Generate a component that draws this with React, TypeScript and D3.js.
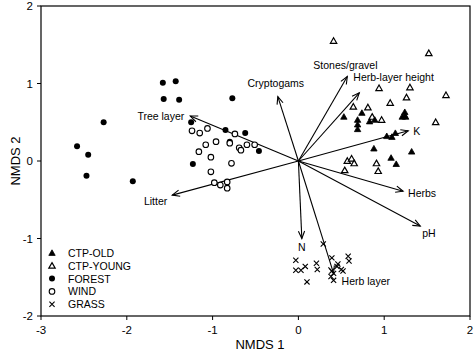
import React from "react";
import * as d3 from "d3";

const forestX = [-2.58, -2.45, -2.47, -1.93, -2.27, -1.58, -1.43, -1.57, -1.39, -0.77, -1.25, -0.85, -0.62, -0.80, -0.46, -1.23];
const forestY = [0.19, 0.08, -0.19, -0.26, 0.50, 1.01, 1.03, 0.80, 0.79, 0.81, 0.50, 0.40, 0.36, 0.25, 0.13, -0.04];

const windX = [-1.24, -1.15, -1.06, -0.74, -1.08, -0.96, -0.80, -0.69, -0.67, -0.60, -0.51, -1.16, -1.02, -0.78, -1.02, -0.98, -0.91, -0.83, -0.83];
const windY = [0.39, 0.36, 0.42, 0.35, 0.21, 0.25, 0.23, 0.17, 0.14, 0.21, 0.21, 0.12, 0.05, -0.03, -0.14, -0.28, -0.31, -0.27, -0.35];

const oldX = [0.53, 0.74, 0.69, 0.69, 0.69, 0.83, 0.89, 1.24, 1.24, 1.21, 1.25, 1.03, 1.09, 1.13, 0.88, 1.32, 1.08, 1.14];
const oldY = [0.57, 0.62, 0.53, 0.47, 0.41, 0.51, 0.53, 0.63, 0.58, 0.57, 0.57, 0.32, 0.31, 0.36, 0.16, 0.12, 0.04, -0.04];

const youngX = [0.41, 1.52, 0.94, 1.30, 1.26, 1.72, 1.07, 0.64, 0.81, 0.86, 0.97, 1.60, 0.57, 0.62, 0.65, 0.54, 0.91, 0.93];
const youngY = [1.55, 1.39, 0.94, 0.95, 0.82, 0.85, 0.75, 0.70, 0.69, 0.57, 0.53, 0.50, 0.00, 0.03, -0.03, -0.12, -0.03, -0.13];

const grassX = [-0.03, -0.03, 0.03, 0.08, 0.10, 0.29, 0.21, 0.22, 0.39, 0.46, 0.45, 0.39, 0.41, 0.38, 0.41, 0.50, 0.52, 0.58, 0.59];
const grassY = [-1.28, -1.41, -1.41, -1.36, -1.56, -1.07, -1.32, -1.40, -1.25, -1.33, -1.36, -1.42, -1.45, -1.49, -1.54, -1.40, -1.42, -1.23, -1.29];

const vecNames = ["Tree layer", "Litter", "Cryptogams", "Stones/gravel", "Herb-layer height", "K", "Herbs", "pH", "N", "Herb layer"];
const vecX = [-1.26, -1.47, -0.24, 0.57, 0.71, 1.28, 1.22, 1.42, 0.04, 0.41];
const vecY = [0.58, -0.44, 0.83, 1.09, 0.88, 0.39, -0.39, -0.84, -1.00, -1.45];

const xTicks = [-3, -2, -1, 0, 1, 2];
const yTicks = [-2, -1, 0, 1, 2];
const legendNames = ["CTP-OLD", "CTP-YOUNG", "FOREST", "WIND", "GRASS"];

// label offsets (pixels) and anchors
const labelDx = [-6, -5, -2, -34, -6, 5, 5, 2, 0, 8];
const labelDy = [4, 10, -10, -8, -12, 4, 6, 11, 12, 12];
const labelAnchor = ["end", "end", "middle", "start", "start", "start", "start", "start", "middle", "start"];

const font = "'Liberation Sans', Arial, sans-serif";

function Tri({ x, y, filled }: { x: number; y: number; filled: boolean }) {
  const s = 3.2;
  const p = `M${x},${y - s}L${x + s},${y + s * 0.75}L${x - s},${y + s * 0.75}Z`;
  return <path d={p} fill={filled ? "#000" : "#fff"} stroke="#000" strokeWidth={filled ? 0.8 : 1.2} />;
}

function Cross({ x, y }: { x: number; y: number }) {
  const s = 2.6;
  return (
    <path d={`M${x - s},${y - s}L${x + s},${y + s}M${x - s},${y + s}L${x + s},${y - s}`} stroke="#000" strokeWidth={1.1} />
  );
}

export default function App() {
  const W = 474, H = 354;
  const x = d3.scaleLinear().domain([-3, 2]).range([41, 470]);
  const y = d3.scaleLinear().domain([-2, 2]).range([316, 6]);
  const x0 = x(0), y0 = y(0);

  const arrows = vecNames.map((n, i) => {
    const hx = x(vecX[i]), hy = y(vecY[i]);
    const ang = Math.atan2(hy - y0, hx - x0);
    const L = 8, a = 0.4;
    const p1 = [hx - L * Math.cos(ang - a), hy - L * Math.sin(ang - a)];
    const p2 = [hx - L * Math.cos(ang + a), hy - L * Math.sin(ang + a)];
    return (
      <g key={n}>
        <line x1={x0} y1={y0} x2={hx} y2={hy} stroke="#000" strokeWidth={1.1} />
        <path d={`M${p1[0]},${p1[1]}L${hx},${hy}L${p2[0]},${p2[1]}`} fill="none" stroke="#000" strokeWidth={1.1} />
        <text x={hx + labelDx[i]} y={hy + labelDy[i]} textAnchor={labelAnchor[i] as any} fontSize={10.5} fontFamily={font}>{n}</text>
      </g>
    );
  });

  return (
    <svg width={W} height={H} style={{ position: "absolute", left: 0, top: 0 }}>
      <rect width={W} height={H} fill="#fff" />
      <rect x={41} y={6} width={429} height={310} fill="none" stroke="#000" strokeWidth={1.2} />
      {xTicks.map((t) => (
        <g key={"x" + t}>
          <line x1={x(t)} x2={x(t)} y1={316} y2={320} stroke="#000" />
          <text x={x(t)} y={334} textAnchor="middle" fontSize={11.5} fontFamily={font}>{t}</text>
        </g>
      ))}
      {yTicks.map((t) => (
        <g key={"y" + t}>
          <line x1={37} x2={41} y1={y(t)} y2={y(t)} stroke="#000" />
          <text x={33} y={y(t) + 4} textAnchor="end" fontSize={11.5} fontFamily={font}>{t}</text>
        </g>
      ))}
      <text x={260} y={349} textAnchor="middle" fontSize={13} fontFamily={font}>NMDS 1</text>
      <text transform={`translate(20,${y(0)}) rotate(-90)`} textAnchor="middle" fontSize={13} fontFamily={font}>NMDS 2</text>

      {arrows}

      {forestX.map((v, i) => (
        <circle key={"f" + i} cx={x(v)} cy={y(forestY[i])} r={3} fill="#000" />
      ))}
      {windX.map((v, i) => (
        <circle key={"w" + i} cx={x(v)} cy={y(windY[i])} r={2.8} fill="#fff" stroke="#000" strokeWidth={1.1} />
      ))}
      {youngX.map((v, i) => (
        <Tri key={"y" + i} x={x(v)} y={y(youngY[i])} filled={false} />
      ))}
      {oldX.map((v, i) => (
        <Tri key={"o" + i} x={x(v)} y={y(oldY[i])} filled={true} />
      ))}
      {grassX.map((v, i) => (
        <Cross key={"g" + i} x={x(v)} y={y(grassY[i])} />
      ))}

      {legendNames.map((n, i) => {
        const ly = 253 + i * 12.8;
        return (
          <g key={n}>
            {i === 0 && <Tri x={52} y={ly} filled={true} />}
            {i === 1 && <Tri x={52} y={ly} filled={false} />}
            {i === 2 && <circle cx={52} cy={ly} r={3} fill="#000" />}
            {i === 3 && <circle cx={52} cy={ly} r={2.8} fill="#fff" stroke="#000" strokeWidth={1.1} />}
            {i === 4 && <Cross x={52} y={ly} />}
            <text x={68} y={ly + 4} fontSize={10.5} fontFamily={font}>{n}</text>
          </g>
        );
      })}
    </svg>
  );
}
